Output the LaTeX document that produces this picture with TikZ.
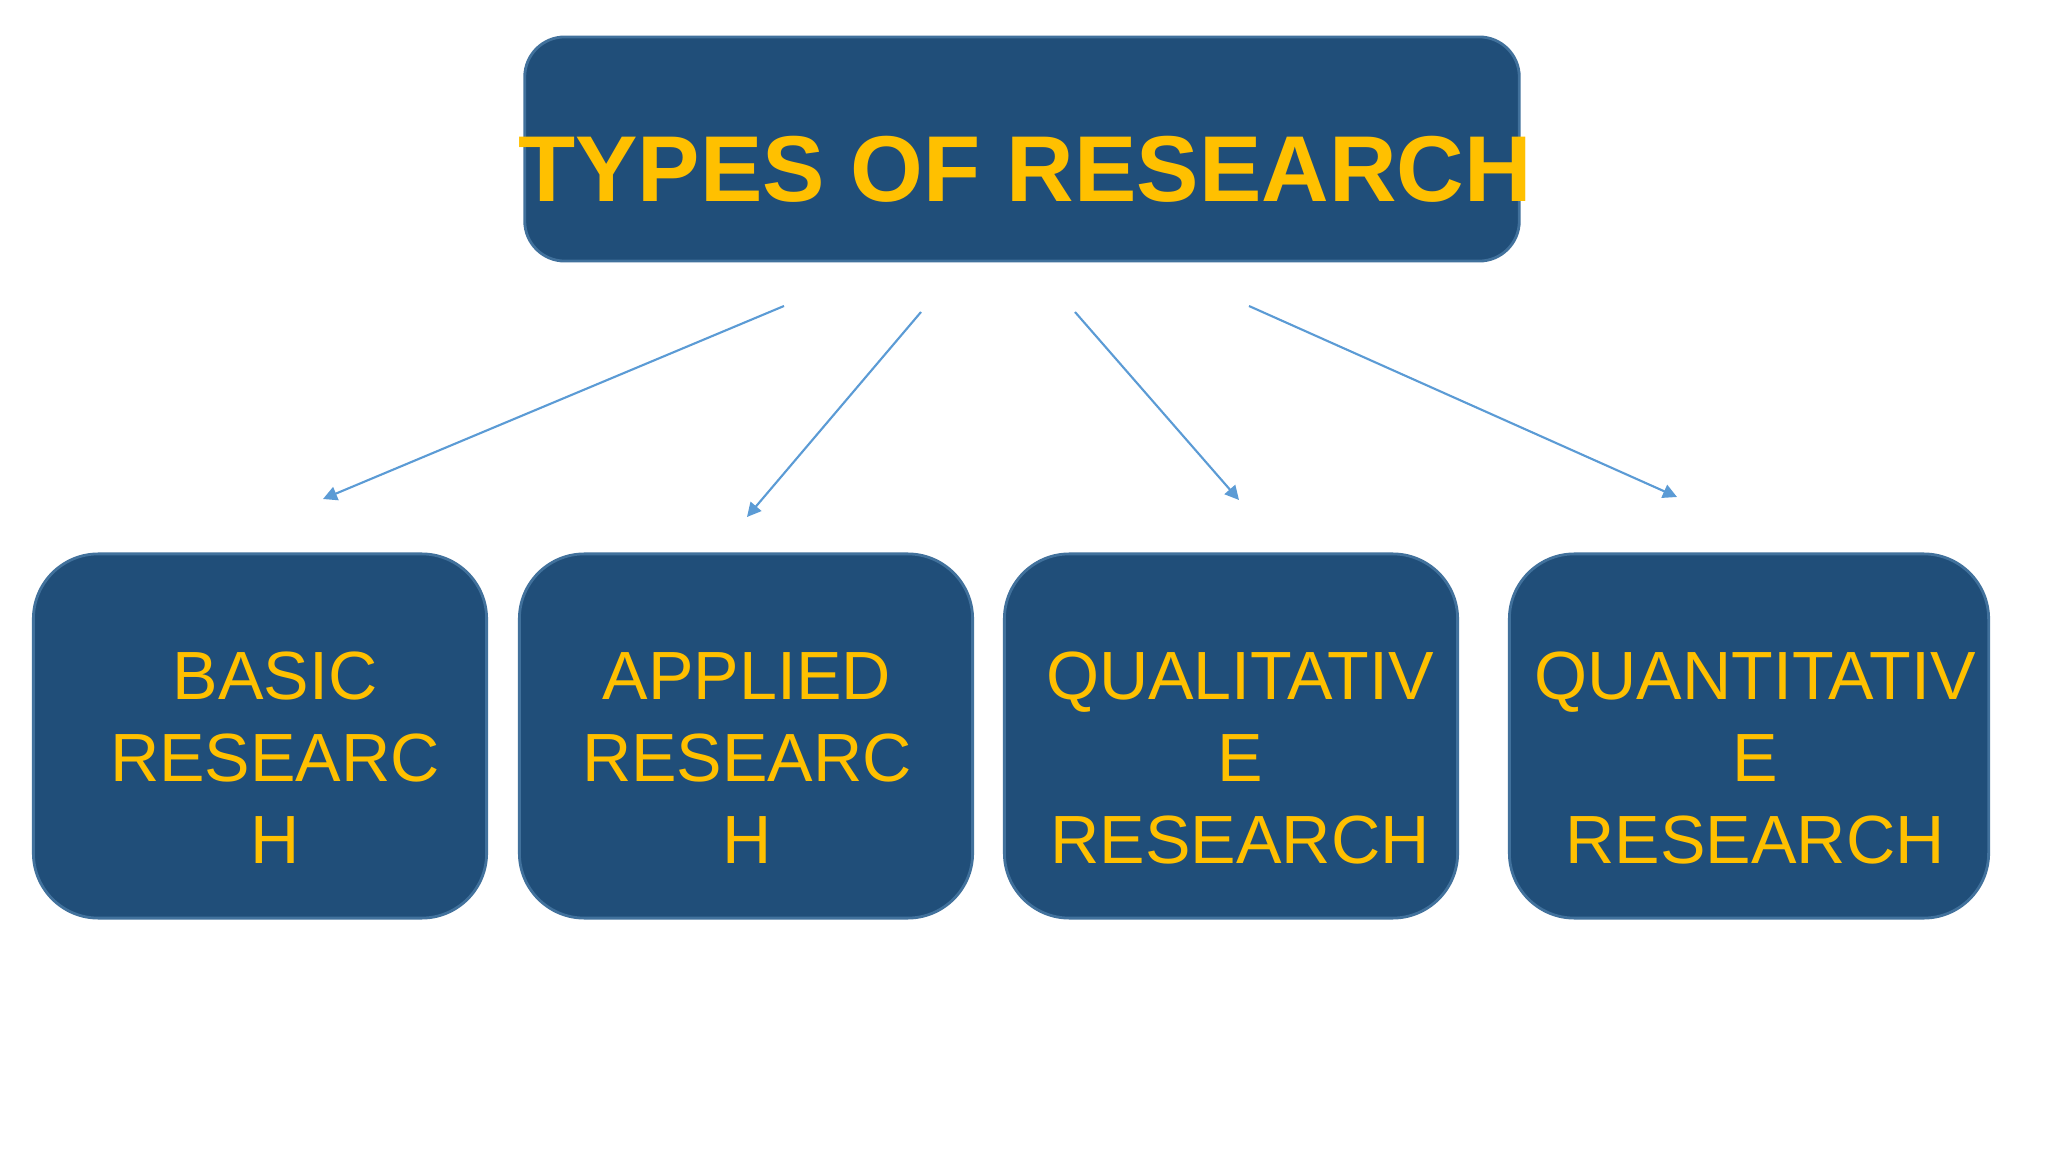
\documentclass[tikz,border=0pt]{standalone}
\usepackage{fontspec}
\setmainfont{Liberation Sans}
\usetikzlibrary{arrows.meta}
\definecolor{boxblue}{RGB}{32,78,121}
\definecolor{edgeblue}{RGB}{65,113,156}
\definecolor{textgold}{RGB}{255,192,0}
\definecolor{arrowblue}{RGB}{91,155,213}
\tikzset{
    typebox/.style={draw=edgeblue, line width=0.8pt, fill=boxblue, rounded corners=0.65cm,
        minimum width=4.53cm, minimum height=3.64cm, inner sep=0pt},
    typetext/.style={text=textgold, align=center, font=\fontsize{19.4pt}{23.3pt}\selectfont},
    typearrow/.style={draw=arrowblue, line width=0.6pt, -{Triangle[length=0.14cm,width=0.14cm]}}
}
\begin{document}
\begin{tikzpicture}[x=0.01cm, y=-0.01cm]
            \useasboundingbox[fill=white] (0,0) rectangle (2048,1152);
            \node[typebox, minimum width=9.94cm, minimum height=2.24cm, rounded corners=0.4cm] (types) at (1022,149) {};
            \node[text=textgold, anchor=base, font=\fontsize{26.6pt}{30pt}\selectfont\bfseries] (typestext) at (1025,202) {TYPES OF RESEARCH};
            \node[typebox] (basic) at (260,736) {};
            \node[typebox] (applied) at (746,736) {};
            \node[typebox] (quali) at (1231,736) {};
            \node[typebox, minimum width=4.79cm] (quanti) at (1749,736) {};
            \node[typetext] (basictext) at ([xshift=0.15cm,yshift=-0.22cm]basic.center) {BASIC\\RESEARC\\H};
            \node[typetext] (appliedtext) at ([xshift=0.01cm,yshift=-0.22cm]applied.center) {APPLIED\\RESEARC\\H};
            \node[typetext] (qualitext) at ([xshift=0.09cm,yshift=-0.22cm]quali.center) {QUALITATIV\\E\\RESEARCH};
            \node[typetext] (quantitext) at ([xshift=0.06cm,yshift=-0.22cm]quanti.center) {QUANTITATIV\\E\\RESEARCH};
            \coordinate (basicfrom) at (784,306);
            \coordinate (basicto) at (323,499);
            \coordinate (appliedfrom) at (921,312);
            \coordinate (appliedto) at (747,517);
            \coordinate (qualifrom) at (1075,312);
            \coordinate (qualito) at (1239,500);
            \coordinate (quantifrom) at (1249,306);
            \coordinate (quantito) at (1677,497);
            \foreach \t in {basic,applied,quali,quanti}
                \draw[typearrow] (\t from) -- (\t to);
        \end{tikzpicture}
\end{document}
